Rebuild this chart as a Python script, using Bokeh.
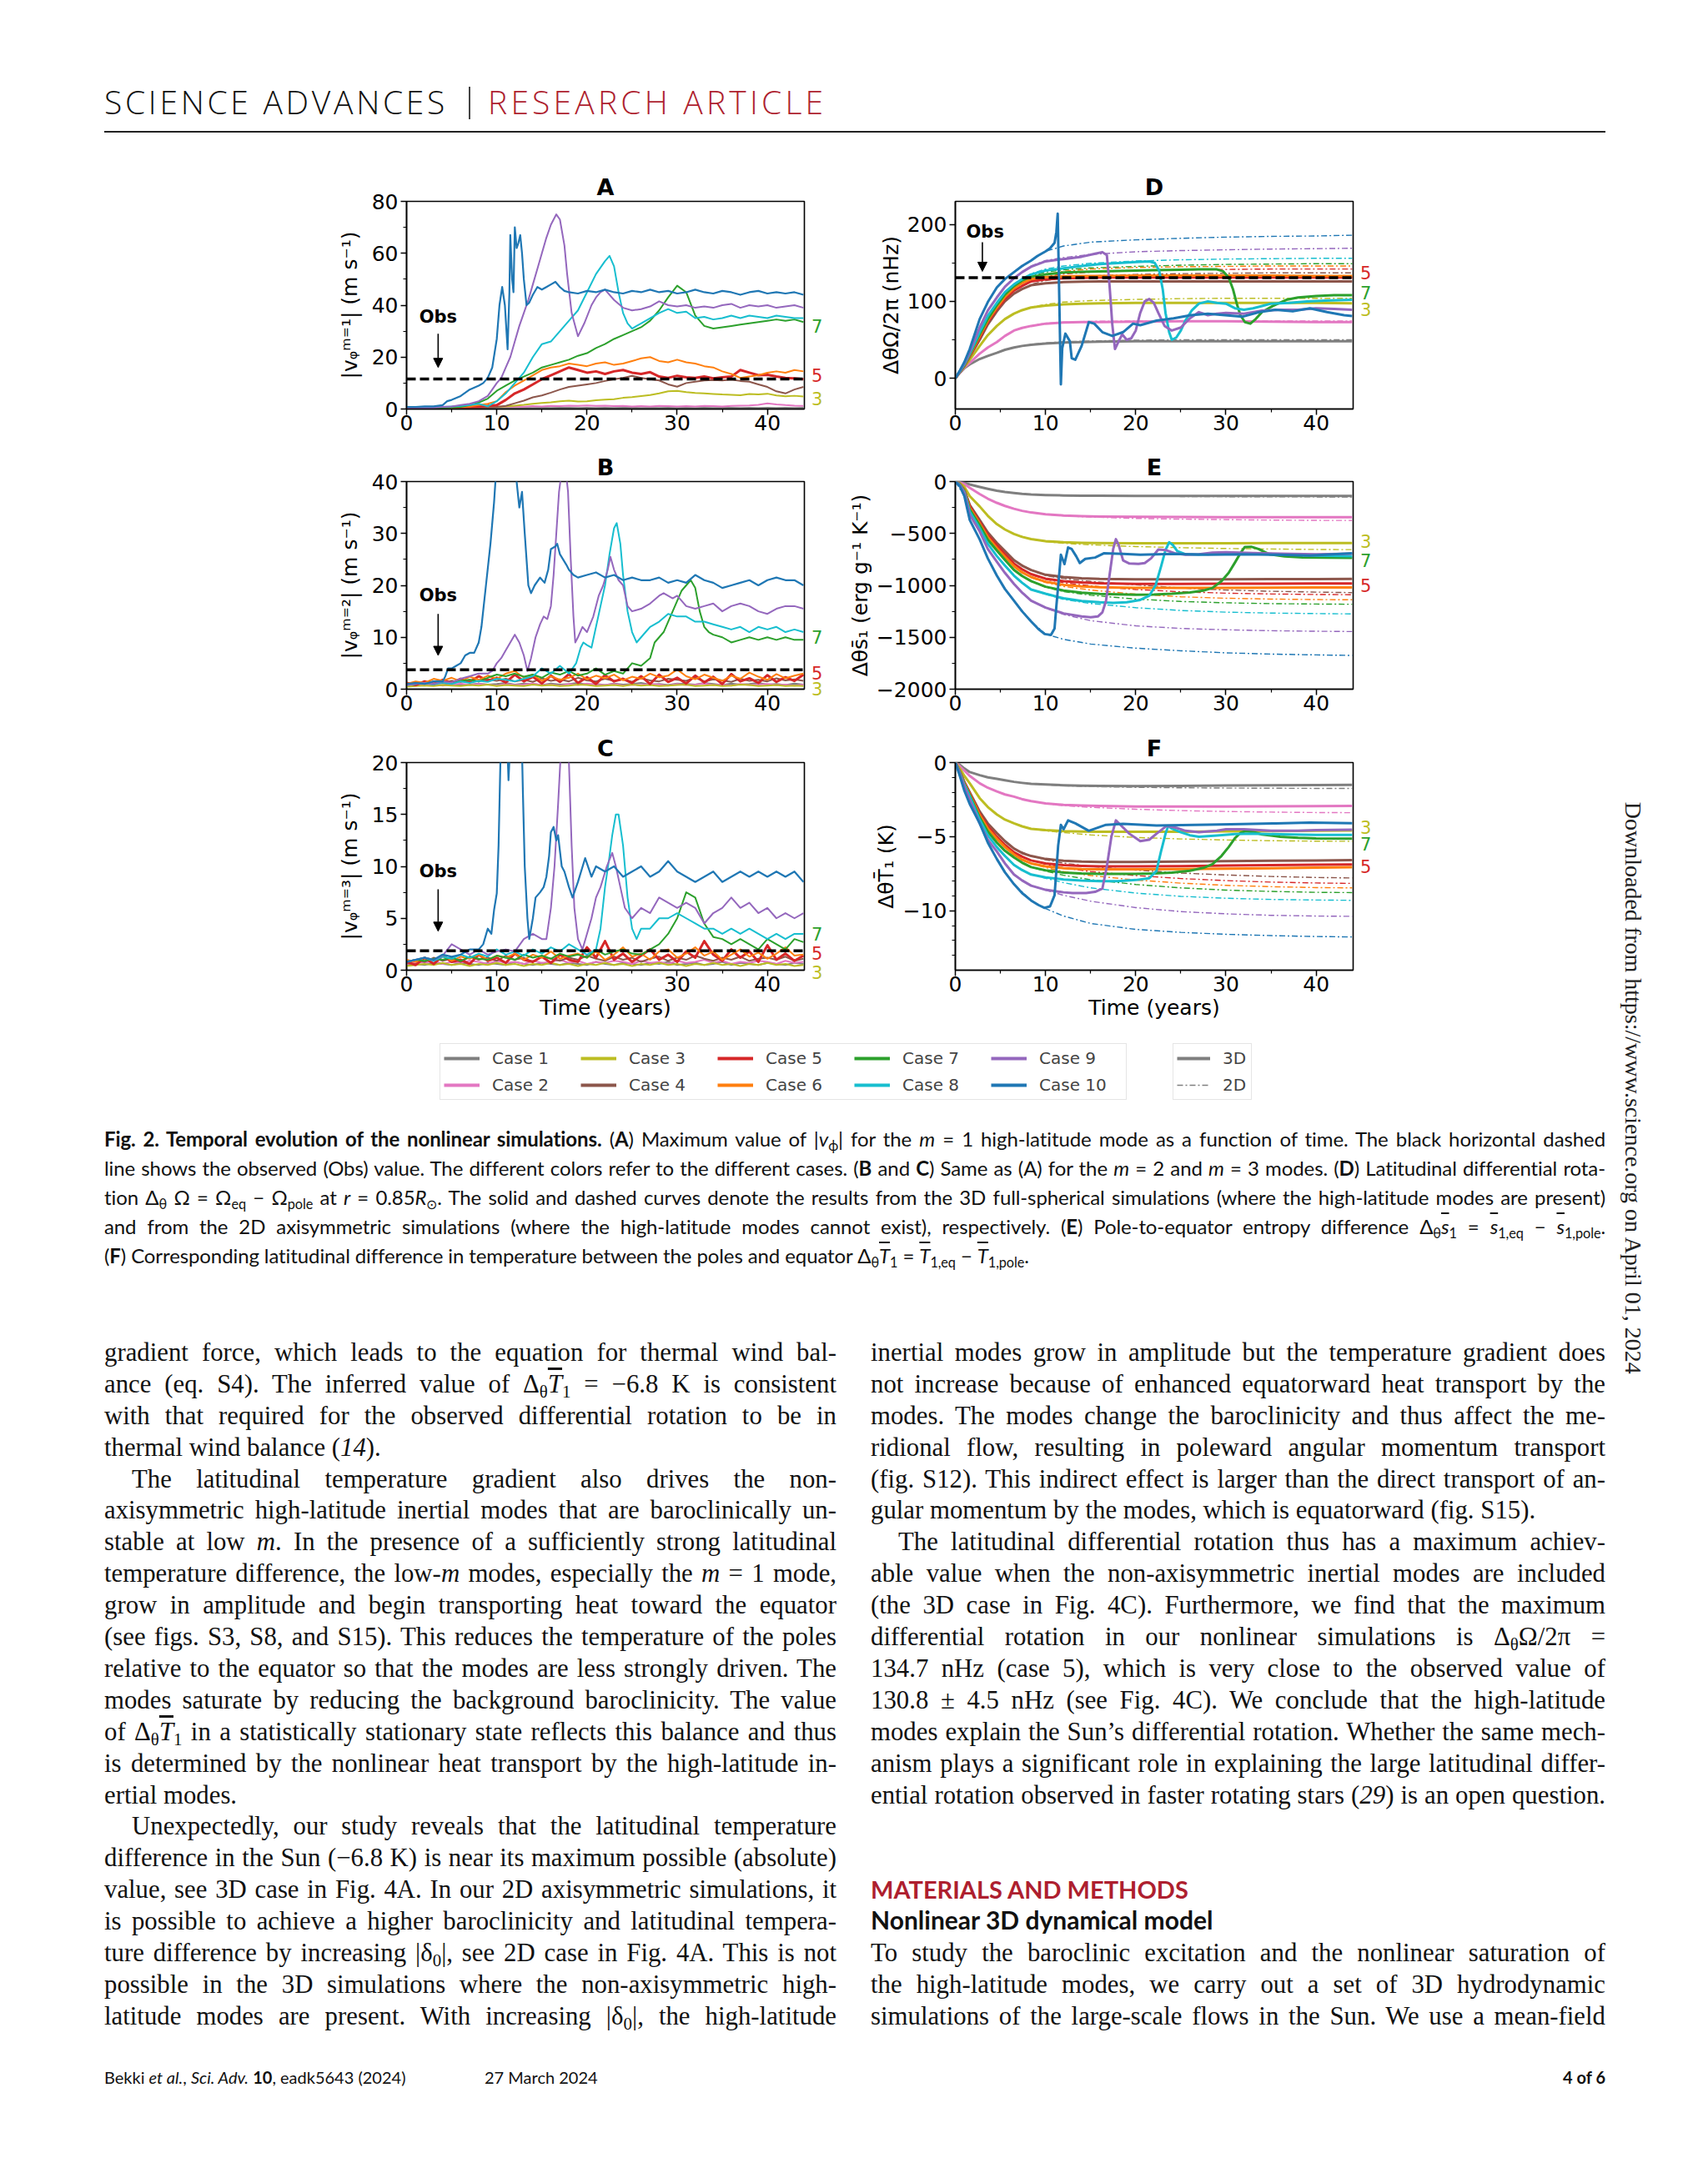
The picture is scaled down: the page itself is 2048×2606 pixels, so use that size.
import math
from bokeh.plotting import figure
from bokeh.models import (FixedTicker, Label, Arrow, NormalHead, Legend, LegendItem,
                          Div, Spacer, Range1d, Span, Title)
from bokeh.layouts import column, row
from bokeh.embed import file_html
from bokeh.resources import INLINE

# ---------------------------------------------------------------- data
CASE_LABELS = ["Case 1", "Case 2", "Case 3", "Case 4", "Case 5",
               "Case 6", "Case 7", "Case 8", "Case 9", "Case 10"]
CASE_COLORS = ["#7f7f7f", "#e377c2", "#bcbd22", "#8c564b", "#d62728",
               "#ff7f0e", "#2ca02c", "#17becf", "#9467bd", "#1f77b4"]
X_TICKS = [0, 10, 20, 30, 40]
X_MINOR = [5, 15, 25, 35]
XMAX = 44.1
YRS = list(range(45))
TF = [0, 0.5, 1, 1.6, 2.7, 3.6, 4.6, 5.5, 6.5, 7.4, 8.4, 10, 12, 14, 16, 20, 25, 30, 35, 40, 44]
TF2 = [0, 1, 1.6, 2.7, 3.6, 4.6, 5.5, 6.5, 8.4, 10, 12, 15, 20, 25, 30, 35, 40, 44]

# observed values
OBS_A, OBS_B, OBS_C, OBS_D = 11.6, 3.75, 1.87, 130.8

# ---- panel A : |v_phi^{m=1}|
A1 = [0.3,0.3,0.3,0.4,0.3,0.3,0.4,0.3,0.4,0.3, 0.4,0.5,0.4,0.5,0.4,0.5,0.4,0.5,0.5,0.4,
      0.5,0.4,0.5,0.4,0.5,0.5,0.4,0.5,0.4,0.5, 0.4,0.5,0.4,0.5,0.4,0.5,0.5,0.4,0.5,0.4, 0.5,0.4,0.5,0.4,0.5]
A2 = [0.5,0.6,0.5,0.7,0.6,0.5,0.7,0.6,0.8,0.7, 0.9,0.8,1.0,0.9,1.1,1.0,1.2,1.1,1.3,1.2,
      1.4,1.2,1.3,1.1,1.2,1.0,1.1,1.0,1.2,1.1, 1.0,1.1,1.0,1.2,1.1,1.0,1.2,1.3,1.4,1.6, 2.2,1.8,1.5,1.3,1.2]
A3 = [0.2,0.2,0.3,0.3,0.3,0.4,0.4,0.5,0.6,0.7, 0.8,1.0,1.3,1.6,2.0,2.3,2.6,3.0,3.2,2.9,
      3.0,3.4,3.6,3.8,4.3,4.6,5.0,5.4,6.0,6.8, 7.0,6.5,6.2,6.0,5.8,5.6,5.5,5.3,5.8,5.6, 5.9,5.2,4.9,5.1,4.8]
A4 = [0.2,0.2,0.2,0.3,0.3,0.3,0.4,0.4,0.5,0.6, 0.8,1.2,2.2,3.2,4.5,5.2,6.3,7.5,8.5,9.0,
      9.5,10.0,10.8,11.5,12.0,12.8,12.0,11.5,11.0,9.5, 8.6,10.0,10.5,11.0,11.2,11.0,11.3,10.8,10.5,9.5, 8.5,6.8,6.0,7.5,8.5]
A5 = [0.3,0.3,0.4,0.4,0.5,0.6,0.7,0.8,1.0,1.2, 1.5,3.5,6.0,7.5,9.5,11.5,13.0,14.5,16.0,15.0,
      14.0,14.5,13.5,14.5,15.0,14.0,13.5,14.2,12.5,12.0, 12.8,12.2,12.0,12.5,11.8,12.2,12.5,15.0,14.0,13.0, 13.2,12.5,12.0,11.8,11.5]
A6 = [0.3,0.3,0.4,0.4,0.5,0.6,0.8,1.0,1.5,2.0, 3.0,6.5,9.0,11.0,13.0,15.0,16.0,16.5,17.5,17.0,
      16.5,17.5,18.0,17.0,17.5,18.5,19.5,20.0,18.5,18.0, 19.0,18.0,17.5,16.5,16.0,14.5,13.5,12.0,12.5,13.0, 14.0,14.5,14.0,15.0,14.5]
A7 = [0.2,0.2,0.3,0.4,0.5,0.6,0.8,1.5,2.5,4.0, 7.0,9.0,11.0,12.5,14.0,16.0,17.0,18.0,19.0,20.5,
      21.5,23.5,25.0,27.0,28.5,30.0,31.5,34.0,38.0,43.0, 47.5,45.0,36.0,32.0,31.0,31.5,32.0,32.5,33.0,33.5, 34.0,34.5,34.0,34.5,33.5]
A8_t = list(range(0, 23)) + [22.5, 23, 23.5, 24, 24.5, 25, 25.5] + list(range(26, 45))
A8_v = [0.5,0.5,0.5,0.8,0.8,1,1.2,1.5,2,1,3,6,10,14,20,25,26,30,34,38,45,52,57,
        59,55,45,37,33,31,32,
        33,35,37,38.5,37,37.5,35,35.5,34.5,35,36,35,36,35.5,35,36,35.5,35,35]
A9_t = [0,1,2,3,4,5,6,7,8,9, 10,10.5,11,11.5,12,12.5,13,13.5,14,14.5,
        15,15.5,16,16.6,17,17.5,17.8,18.3,19,19.7, 20.5,21,21.5,22,23,24,25,26,27,28,
        29,30,31,32,33,34,35,36,37,38, 39,40,41,42,43,44]
A9_v = [0.3,0.3,0.4,0.5,0.8,1,1.5,2,3,5, 10,12,16,20,26,32,37,42,48,54,
        60,66,71,75,73,63,52,37,28,33, 40,43,45,46,42,39,38,38.5,39.5,41.5,
        40,39.5,40,39,39.5,39,40,40.5,39,40, 39.5,40,39,39.5,40,39]
A10_t = [0,1,2,3,4,4.5,5,6,7,8, 8.5,9,9.5,10,10.3,10.6,10.9,11.2,11.4,11.5,
         11.7,11.85,12.0,12.2,12.4,12.6,12.8,13.0,13.3,13.6, 14,14.5,15,15.5,16,16.5,17,17.5,18,19,
         20] + list(range(21, 45))
A10_v = [0.8,0.8,1,1,1.5,3,3.5,5,7.5,9, 10,12,16,27,40,47,40,23,45,67,
         50,45,70,62,64,67,60,50,40,41, 44,47,46,47,48,49,47,45.5,45,44.5,
         45.5] + [45,46,45,44.5,45.5,45,46,45,45.5,44.5,45,46,45,44.5,45.5,45,44,45,45.5,44.5,45,44.5,45,44]

# ---- panel B : |v_phi^{m=2}|
B1 = [0.6,0.8,0.7,0.9,0.8,1.0,0.8,0.9,1.1,0.9, 1.0,1.2,0.9,1.1,1.0,0.8,1.1,0.9,1.0,1.2,
      0.9,1.0,0.8,1.1,0.9,1.0,1.2,0.9,1.0,0.8, 1.1,1.0,0.9,1.2,1.0,0.8,1.1,0.9,1.0,1.2, 0.9,1.0,0.8,1.1,0.9]
B2 = [0.7,0.9,0.8,1.0,0.7,0.9,1.1,0.8,1.0,0.9, 0.7,1.0,0.8,0.9,1.1,0.8,0.9,0.7,1.0,0.8,
      1.1,0.9,0.8,1.0,0.7,0.9,0.8,1.0,0.9,0.7, 1.0,0.8,0.9,1.1,0.8,0.9,0.7,1.0,0.8,0.9, 1.0,0.8,0.9,0.7,0.9]
B3 = [0.5,0.6,0.7,0.6,0.8,0.7,0.6,0.8,0.7,0.9, 0.6,0.8,0.7,0.6,0.9,0.7,0.8,0.6,0.7,0.9,
      0.8,0.6,0.7,0.8,0.6,0.9,0.7,0.8,0.6,0.7, 0.8,0.9,0.6,0.7,0.8,0.6,0.7,0.9,0.8,0.6, 0.7,0.8,0.6,0.7,0.6]
B4 = [1.0,1.3,1.1,1.5,1.2,1.6,1.4,1.8,1.5,1.9, 1.6,2.0,1.5,1.8,1.4,2.1,1.6,1.9,1.5,2.2,
      1.7,1.5,2.0,1.6,1.9,1.4,2.1,1.7,1.5,2.0, 1.8,1.6,2.2,1.5,1.9,1.7,1.4,2.0,1.6,1.8, 1.5,2.1,1.7,1.9,1.6]
B5 = [1.2,0.8,1.5,1.0,1.8,1.2,2.0,1.4,2.5,1.6, 2.2,1.3,2.8,1.5,2.4,1.1,2.6,1.4,2.9,1.2,
      2.3,1.0,2.7,1.5,2.0,1.2,2.5,1.0,2.8,1.4, 2.2,1.1,2.6,1.3,2.4,1.0,2.9,1.5,2.1,1.2, 2.7,1.4,2.3,1.6,2.8]
B6 = [1.0,1.5,1.2,2.0,1.6,2.2,1.5,2.4,1.8,2.6, 2.0,3.0,3.5,2.2,2.8,1.6,2.5,1.8,2.2,3.0,
      1.9,2.6,2.1,2.8,1.7,2.4,2.0,3.0,2.3,2.6, 3.8,2.5,1.9,2.8,2.2,1.6,2.6,2.0,3.2,2.4, 1.8,2.9,2.1,2.6,3.0]
B7_t = list(range(0, 27)) + [27,27.5,28,28.5,29,29.5,30,30.5,31,31.5,32,32.5,33,33.5,34] + list(range(35, 45))
B7_v = [0.8,1.0,1.2,1.0,1.4,1.2,1.6,1.8,1.5,2.2, 2.8,2.5,3.0,2.4,2.8,2.2,3.2,2.8,3.5,2.6,
        3.0,4.0,2.8,3.5,3.0,5.0,4.5] + [6,9,10,11,13,15,17,19,20,21,19.5,15,12,11,10.5] + \
       [10,9,9.5,10,9.5,10,9.5,10,9.5,9.5]
B8_t = list(range(0, 19)) + [18.8,19.3,19.6,20,20.5,21,21.5,22,22.5,23,23.3,23.7,24,24.5,25,25.5,26,26.5,27] + list(range(28, 45))
B8_v = [0.8,1.0,1.2,0.9,1.3,1.0,1.5,1.2,1.6,1.4, 2.0,1.8,1.5,2.0,2.5,4.0,3.0,4.5,3.0] + \
       [5,8,9,8.5,8,12,16,20,26,31,32,28,22,15,11,9,10,11,12] + \
       [13,14.5,14,14,13,13,12.5,12,11.5,12,11,12,11.5,12,11,11.5,11]
B9_t = list(range(0, 10)) + [9.5,10,10.5,11,11.5,12,12.5,13,13.4,13.8, 14.3,14.8,15.2,15.6,16,16.3,16.6,16.9,17.2,17.6,
        17.9,18.2,18.5,18.7,19,19.5,20,20.7,21.3,21.8, 22.3,22.6,23,23.5,24,24.5,25,26,27,28,
        28.5,29.5,30,31,32,33,34,35,36,37, 38,39,40,41,42,43,44]
B9_v = [0.8,1.0,1.2,1.0,1.5,1.3,2.0,2.5,3.0,3.0] + [3.5,5,6,7.5,9,10.5,9,6.5,3.5,6, 10,12.5,14,13.5,16,22,30,38,42,43,
        38,25,14,9,10,12,11,14,18,20, 23,25.5,23,21,20,16,15,15.5,16.5,18,
        18.5,17.5,18,16,15.5,16,16.5,15,16,16.5, 16,15,14.5,15.5,16,16,15.5]
B10_t = [0,1,2,3,4,4.3,4.6,5,5.5,6, 6.5,7,7.5,8,8.3,8.8,9.3,9.7,10,11, 12,12.2,12.5,12.8,13.1,13.5,13.8,14.2,14.8,15.3,
         15.7,16,16.5,16.7,17,17.7,18,18.5,19,20, 21] + list(range(22, 45))
B10_v = [1.0,1.2,1.0,1.5,1.5,2.5,4,4,4.5,5, 6.5,7,7,9,12,20,28,36,44,50, 45,40,35,38,30,20,18.5,20,21.5,20.5,
         23,27,27.5,28,26,24,23,22,21.5,22, 22.5] + \
        [21.5,22,21,21.5,21,21,21.5,20.5,21,20.5,22,21,20.5,19.5,20,20.5,21,20,21,21.5,21,21,20]

# ---- panel C : |v_phi^{m=3}|
C1 = [0.5,0.6,0.5,0.7,0.6,0.5,0.7,0.6,0.5,0.7, 0.6,0.5,0.8,0.6,0.5,0.7,0.6,0.5,0.7,0.6,
      0.5,0.8,0.6,0.5,0.7,0.6,0.5,0.7,0.6,0.8, 0.5,0.6,0.7,0.5,0.6,0.8,0.5,0.7,0.6,0.5, 0.7,0.6,0.5,0.7,0.6]
C2 = [0.6,0.8,0.7,0.9,0.6,0.8,0.7,0.9,0.8,0.6, 0.9,0.7,0.8,0.6,0.9,0.7,0.8,1.0,0.7,0.9,
      0.6,0.8,0.7,0.9,0.8,0.6,0.9,0.7,0.8,0.6, 0.9,0.7,0.8,1.0,0.7,0.9,0.6,0.8,0.7,0.9, 0.8,0.6,0.9,0.7,0.8]
C3 = [0.4,0.5,0.6,0.5,0.7,0.5,0.6,0.4,0.6,0.5, 0.7,0.5,0.6,0.4,0.6,0.5,0.7,0.5,0.6,0.4,
      0.6,0.5,0.7,0.5,0.6,0.4,0.6,0.5,0.7,0.5, 0.6,0.4,0.6,0.5,0.7,0.5,0.6,0.4,0.6,0.5, 0.7,0.5,0.6,0.4,0.5]
C4 = [0.7,1.0,0.8,1.2,0.9,1.1,0.8,1.3,1.0,1.2, 0.9,1.4,1.0,1.2,0.8,1.3,1.1,0.9,1.2,1.0,
      1.4,1.1,0.9,1.3,1.0,1.2,0.8,1.1,1.3,0.9, 1.2,1.0,1.4,1.1,0.9,1.2,1.0,1.3,0.9,1.1, 1.2,1.0,1.3,0.9,1.1]
C5 = [0.8,0.5,1.2,0.6,1.4,0.8,1.0,0.6,1.5,0.9, 1.2,0.7,1.6,1.0,0.8,1.3,0.7,1.5,1.0,0.8,
      2.2,1.2,2.8,1.0,1.6,0.8,1.4,2.0,1.0,1.5, 0.8,1.8,1.2,2.8,1.5,0.9,2.0,1.2,1.8,0.8, 2.4,1.0,1.6,0.9,1.4]
C6 = [1.0,0.8,1.2,1.0,1.4,0.9,1.3,1.1,1.5,1.0, 1.4,1.2,1.6,1.0,1.5,1.2,1.8,1.1,1.4,1.6,
      1.2,1.8,1.0,1.5,2.2,1.3,1.6,1.0,1.8,2.0, 1.2,1.6,2.2,1.4,1.8,1.0,1.5,2.0,1.3,1.7, 1.1,1.6,2.2,1.4,1.5]
C7 = [0.8,1.0,0.9,1.1,1.0,1.2,0.9,1.3,1.1,1.0, 1.4,1.2,1.0,1.5,1.2,1.4,1.1,1.6,1.3,1.5,
      1.2,2.0,1.5,1.8,2.0,1.6,1.5,2.0,2.5,3.5, 5.0,7.5,7.0,4.5,3.2,3.0,2.5,3.0,2.5,2.0, 3.0,2.5,2.0,3.0,2.7]
C8_t = list(range(0, 22)) + [21.5,22,22.5,22.8,23.2,23.5,24,24.5,25,25.5] + list(range(26, 45))
C8_v = [0.8,1.0,1.2,0.9,1.3,1.1,1.5,1.2,1.6,1.3, 2.0,1.5,1.8,1.4,2.0,1.6,2.2,1.8,2.5,2.0, 1.5,2.0] + \
       [4,8,11,13,15,15,12,7,4,3] + [4,4,5,5,5.5,5,4.5,4,4,3.5, 4,3.5,4,3.5,3,3.5,3,3.5,3.5]
C9_t = list(range(0, 16)) + [15.5,16,16.4,16.8,17.1,17.6,18.0,18.3,18.6,19, 19.5,20,20.5,21,21.5,22.2,22.8,23.2,23.7,24.2,
        25] + list(range(26, 45))
C9_v = [0.8,1.0,1.2,1.0,1.4,2.5,2.0,1.5,2.0,1.5, 1.8,2.0,1.8,3.0,3.5,3.0] + \
       [3,6,10,16,21,22,20,12,6,3, 2,3.5,5,7,8,10,11.3,10,8,6, 5] + \
       [6,5.5,7,6.5,6,6.5,6,4.5,5.5,6, 7,6,6.5,5.5,6,5,5.5,5,5.5]
C10_t = [0,1,2,3,4,5,6,7,8,8.5, 9,9.4,9.7,10,10.2,10.5,11,11.3,11.6,12.2, 12.8,12.9,13.1,13.4,13.6,14,14.3,14.8,15.2,15.5,
         15.8,16,16.3,16.6,16.8,17.2,17.5,18,18.4,19, 19.8,20.5,21] + list(range(22, 45))
C10_v = [0.8,1.0,1.2,1.0,1.5,1.3,1.5,2.0,2.0,2.5, 4.0,3.5,5.8,7.4,12,24,26,18.3,24,25, 21,17,10,5,3,5,7,7.5,8,9,
         11,13.3,13.8,12.5,13,10,9.5,8,7,8.5, 10.8,9,10] + \
        [9.5,10,9,9.5,10,9,9.5,10.5,9.5,9,8.5,9,9.5,8.5,9,9.5,9,9.5,9,9.5,9,9.5,8.5]

# ---- panel D : Delta Omega / 2 pi (nHz); 3D solid, 2D dash-dot
D1 = [0,7,13,18,25,29,33,37,40,42,43.5,45,46.5,47,47.5,48,48,48,48,48,48]
D2 = [0,7,14,20,32,40,47,55,62,65.5,68,71,72.5,73,73,73.5,74,74,73.5,73,73]
D3 = [0,8,15,24,42,56,68,77,84,88.5,92,94.5,96,97,97.5,98,98,98,98,98,97.5]
D4 = [0,8,16,28,50,70,87,100,110,116,121,123.5,125,125.5,126,126,126,126,126,126,126]
D5 = [0,8,16,29,53,73,90,103,114,120,126,128.5,130,130.5,131,131,131,131,131,131,131]
D6 = [0,8,17,30,55,75,92,106,117,124,129,131.5,132.5,133,133,133.5,133.5,133.5,133.5,133,133]
D7_t = TF[:16] + [22,25,27,29,29.7,30.3,30.8,31.2,31.6,32.1,32.7,33.3,34,35.2,36.7,38,40,42,44]
D7_v = [0,8,17,31,57,77,95,109,120,127,132,135,137.5,138.5,139,140] + \
       [140.5,141,141.5,141.5,139,131,115,97,82,73,71,77,86,94,102,105,107,108,108]
D8_t = TF[:16] + [21.5,22.1,22.6,23.0,23.3,23.7,24,24.5,25,25.5,26.2,27,28,29,30,31,32,33,34,35,37,39,41,44]
D8_v = [0,9,18,32,60,81,98,112,122,129,135,140,143,146,148.5,151] + \
       [152,150,140,115,85,60,50,53,62,75,88,97,100,98,97,91,89,91,94,97,98,100,101,102]
D9_t = TF[:14] + [15.5,16.3,16.8,17.1,17.4,17.7,18.1,18.5,19,19.5,20,20.5,21,21.5,22,22.5,23.2,24,25,26,
                  27,28,29,30,32,34,36,38,40,42,44]
D9_v = [0,9,19,34,66,88,105,119,130,138,145,152,155,158] + \
       [162,164,160,120,70,38,48,57,50,52,62,85,100,103,98,85,68,62,66,78,86,82,84,85,84,88,89,89,91,90,89]
D10_t = [0,0.5,1,1.6,2.7,3.6,4.6,5.5,6.5,7.4, 8.4,9.1,10,10.5,11,11.2,11.35,11.7,11.85,12.2,
         12.7,12.9,13.3,14,14.8,15.4,16.3,17.4,18.6,19.7, 20.5,22.3,24.2,26.1,28,29.9,31.8,33.7,35.5,37.4,
         39.3,41.2,43.1,44]
D10_v = [0,10,21,38,77,99,118,129,138,146, 153,159,165,169,176,190,214,-8,39,58,
         48,26,24,42,73,71,60,55,60,71, 69,75,78,82,84,82,80,86,89,87, 91,86,82,81]
D2D_1 = [0,13,18,25,29,33,37,40,44,46,47.5,48.5,49.5,50,50,50,50,50]
D2D_2 = [0,14,20,32,40,47,55,62,68.5,71.5,73,74,74.5,74.5,74.5,74.5,74.5,74.5]
D2D_3 = [0,15,24,42,56,68,77,84,92.5,96,99,101,102.5,103.5,104,104,104,104]
D2D_4 = [0,16,28,50,70,87,100,110,122,127,130,133,135,136,136.5,137,137,137]
D2D_5 = [0,16,29,53,73,90,103,114,127,132,135.5,138,140,141,141.5,142,142,142]
D2D_6 = [0,17,30,55,75,92,106,117,130,135,139,142,144,145,145.5,146,146,146]
D2D_7 = [0,17,31,57,77,95,109,120,133,138,141,143.5,145.5,147,148,148.5,149,149]
D2D_8 = [0,18,32,60,81,98,112,122,136,142,146,149.5,152.5,154,155,155.5,156,156]
D2D_9 = [0,19,34,66,88,105,119,130,146,153,157,161,164.5,166,167,168,168.5,169]
D2D_10 = [0,21,38,77,99,118,129,138,153,165,172,177,180,182,183.5,184.5,185,186]

# ---- panel E : entropy difference
E1 = [0,-4,-12,-28,-52,-70,-88,-100,-110,-118,-124,-130,-134,-136,-137,-138,-139,-139,-139,-138,-138]
E2 = [0,-8,-25,-60,-120,-165,-205,-235,-262,-282,-298,-315,-327,-333,-337,-340,-342,-343,-343,-343,-343]
E3 = [0,-15,-50,-140,-240,-330,-410,-462,-505,-533,-554,-574,-585,-590,-592,-594,-594,-594,-593,-593,-593]
E4 = [0,-25,-80,-225,-370,-490,-590,-670,-758,-810,-852,-898,-920,-932,-938,-942,-942,-941,-940,-939,-938]
E5 = [0,-27,-86,-240,-390,-515,-615,-700,-790,-845,-892,-935,-960,-972,-980,-985,-985,-984,-983,-982,-981]
E6 = [0,-28,-90,-255,-405,-535,-640,-725,-815,-875,-920,-965,-995,-1010,-1018,-1024,-1025,-1024,-1022,-1021,-1021]
E7_t = TF[:16] + [22,24,26,27.5,28.5,29.5,30.3,31,31.6,32.1,32.8,33.6,34.8,36.5,38.5,41,44]
E7_v = [0,-30,-95,-270,-420,-560,-665,-755,-852,-910,-959,-1013,-1050,-1070,-1082,-1090] + \
       [-1088,-1080,-1068,-1050,-1025,-960,-880,-780,-690,-630,-628,-650,-700,-720,-730,-733,-735]
E8_t = TF[:14] + [16,17.5,19,20.5,21.5,22.2,22.8,23.3,23.7,24.1,24.6,25.5,27,29,31,35,40,44]
E8_v = [0,-32,-100,-290,-450,-600,-718,-810,-906,-975,-1040,-1080,-1125,-1150] + \
       [-1162,-1168,-1162,-1140,-1100,-1000,-820,-660,-585,-610,-670,-700,-705,-695,-690,-700,-712,-718]
E9_t = TF[:14] + [15,15.8,16.3,16.7,17.1,17.5,17.8,18.1,18.6,19.3,20.3,21,21.7,22.5,23.3,24.3,25.5,27,28.5,30,33,36,40,44]
E9_v = [0,-35,-110,-320,-480,-650,-772,-880,-986,-1070,-1147,-1214,-1270,-1300] + \
       [-1308,-1300,-1260,-1150,-900,-650,-555,-610,-760,-790,-793,-785,-740,-655,-660,-690,-705,-700,-685,-680,-688,-695,-700,-695]
E10_t = [0,0.5,1,1.6,2.7,3.6,4.6,5.5,6.5,7.4, 8.4,9.2,9.9,10.6,11.0,11.2,11.45,11.7,12.1,12.5,
         12.9,13.4,13.8,14.4,15.5,16.5,18.6,20.5,24.2,28, 31.8,35.5,39.3,44]
E10_v = [0,-45,-140,-370,-557,-740,-906,-1035,-1147,-1250, -1348,-1420,-1469,-1478,-1415,-1200,-960,-705,-795,-635,
         -650,-720,-785,-745,-732,-690,-697,-705,-697,-705, -700,-705,-713,-691]
E2D_1 = [0,-12,-28,-52,-70,-88,-100,-110,-124,-130,-135,-139,-142,-144,-146,-147,-148,-148]
E2D_2 = [0,-25,-60,-120,-165,-205,-235,-262,-298,-316,-330,-342,-355,-362,-367,-371,-374,-375]
E2D_3 = [0,-50,-140,-240,-330,-410,-462,-505,-556,-578,-595,-610,-626,-637,-645,-650,-654,-656]
E2D_4 = [0,-80,-225,-370,-490,-590,-670,-758,-855,-905,-935,-962,-995,-1025,-1045,-1057,-1065,-1070]
E2D_5 = [0,-86,-240,-390,-515,-615,-700,-790,-895,-942,-975,-1005,-1040,-1062,-1075,-1083,-1088,-1090]
E2D_6 = [0,-90,-255,-405,-535,-640,-725,-815,-925,-972,-1010,-1045,-1085,-1110,-1124,-1132,-1137,-1139]
E2D_7 = [0,-95,-270,-420,-560,-665,-755,-852,-962,-1018,-1060,-1095,-1132,-1155,-1168,-1176,-1180,-1182]
E2D_8 = [0,-100,-290,-450,-600,-718,-810,-906,-1042,-1085,-1135,-1175,-1215,-1242,-1258,-1267,-1272,-1275]
E2D_9 = [0,-110,-320,-480,-650,-772,-880,-986,-1148,-1218,-1280,-1340,-1390,-1415,-1428,-1437,-1442,-1445]
E2D_10 = [0,-140,-370,-557,-740,-906,-1035,-1147,-1348,-1469,-1520,-1565,-1605,-1630,-1650,-1662,-1670,-1675]

# ---- panel F : temperature difference (K)
F1 = [0,-0.15,-0.4,-0.64,-0.85,-1.0,-1.1,-1.2,-1.3,-1.37,-1.44,-1.48,-1.53,-1.56,-1.58,-1.59,-1.57,-1.55,-1.53,-1.52,-1.51]
F2 = [0,-0.25,-0.55,-0.9,-1.4,-1.7,-1.95,-2.15,-2.3,-2.47,-2.6,-2.75,-2.85,-2.9,-2.93,-2.96,-2.97,-2.96,-2.95,-2.94,-2.93]
F3 = [0,-0.4,-0.9,-1.4,-2.4,-3.0,-3.5,-3.85,-4.1,-4.3,-4.47,-4.56,-4.62,-4.65,-4.66,-4.67,-4.66,-4.64,-4.62,-4.6,-4.58]
F4 = [0,-0.6,-1.3,-2.0,-3.3,-4.1,-4.75,-5.3,-5.8,-6.1,-6.3,-6.5,-6.62,-6.68,-6.7,-6.7,-6.68,-6.65,-6.62,-6.6,-6.58]
F5 = [0,-0.63,-1.35,-2.1,-3.45,-4.3,-5.0,-5.55,-6.05,-6.35,-6.6,-6.8,-6.92,-6.97,-7.0,-7.0,-6.98,-6.95,-6.92,-6.89,-6.87]
F6 = [0,-0.65,-1.4,-2.15,-3.55,-4.45,-5.15,-5.7,-6.2,-6.55,-6.8,-7.0,-7.12,-7.18,-7.2,-7.2,-7.18,-7.15,-7.12,-7.08,-7.05]
F7_t = TF[:16] + [22,24,26,27.5,28.5,29.5,30.3,31,31.6,32.2,33,34,36,38,40,44]
F7_v = [0,-0.68,-1.45,-2.2,-3.7,-4.65,-5.4,-5.95,-6.4,-6.75,-7.05,-7.27,-7.42,-7.48,-7.5,-7.5] + \
       [-7.48,-7.42,-7.3,-7.1,-6.85,-6.3,-5.7,-5.1,-4.75,-4.62,-4.68,-4.85,-5.0,-5.08,-5.12,-5.13]
F8_t = TF[:14] + [16,18,20,21.5,22.3,22.8,23.3,23.6,24,25,26,27,29,31,33,36,40,44]
F8_v = [0,-0.7,-1.5,-2.3,-3.85,-4.9,-5.7,-6.3,-6.9,-7.25,-7.55,-7.74,-7.88,-7.96] + \
       [-8.0,-8.0,-7.92,-7.8,-7.3,-6.0,-4.8,-4.28,-4.45,-4.7,-4.9,-5.0,-4.92,-4.82,-4.8,-4.84,-4.88,-4.88]
F9_t = TF[:13] + [13,14.5,15.5,16.3,16.8,17.3,17.8,18.3,19.3,20.5,21.5,22.3,23.4,24.5,25.5,27,29,30,32,35,38,40,44]
F9_v = [0,-0.75,-1.6,-2.5,-4.1,-5.2,-6.0,-6.8,-7.55,-7.95,-8.3,-8.58,-8.75] + \
       [-8.8,-8.8,-8.72,-8.5,-7.0,-5.0,-3.9,-4.2,-4.8,-5.3,-5.2,-4.8,-4.28,-4.4,-4.6,-4.7,-4.6,-4.5,-4.5,-4.6,-4.6,-4.55,-4.52]
F10_t = [0,0.5,1,1.6,2.7,3.6,4.6,5.5,6.5,7.4, 8.4,9.2,9.9,10.5,11.0,11.4,11.7,12.0,12.5,13.3,
         14.8,16.7,18.6,22.3,28,31.8,35.5,39.3,44]
F10_v = [0,-0.9,-1.9,-2.8,-4.1,-5.4,-6.5,-7.4,-8.2,-8.8, -9.3,-9.6,-9.8,-9.7,-8.95,-5.6,-4.2,-4.5,-3.9,-4.1,
         -4.6,-4.2,-4.13,-4.24,-4.19,-4.15,-4.1,-4.05,-4.09]
F2D_1 = [0,-0.4,-0.64,-0.85,-1.0,-1.1,-1.2,-1.3,-1.44,-1.5,-1.56,-1.62,-1.67,-1.7,-1.72,-1.73,-1.74,-1.74]
F2D_2 = [0,-0.55,-0.9,-1.4,-1.7,-1.95,-2.15,-2.3,-2.6,-2.77,-2.9,-3.02,-3.15,-3.24,-3.3,-3.34,-3.37,-3.38]
F2D_3 = [0,-0.9,-1.4,-2.4,-3.0,-3.5,-3.85,-4.1,-4.47,-4.6,-4.72,-4.88,-5.05,-5.15,-5.22,-5.27,-5.3,-5.31]
F2D_4 = [0,-1.3,-2.0,-3.3,-4.1,-4.75,-5.3,-5.8,-6.3,-6.55,-6.78,-7.0,-7.25,-7.45,-7.58,-7.68,-7.75,-7.78]
F2D_5 = [0,-1.35,-2.1,-3.45,-4.3,-5.0,-5.55,-6.05,-6.6,-6.85,-7.1,-7.35,-7.62,-7.82,-7.96,-8.06,-8.12,-8.15]
F2D_6 = [0,-1.4,-2.15,-3.55,-4.45,-5.15,-5.7,-6.2,-6.8,-7.08,-7.35,-7.62,-7.92,-8.13,-8.28,-8.37,-8.43,-8.45]
F2D_7 = [0,-1.45,-2.2,-3.7,-4.65,-5.4,-5.95,-6.4,-7.05,-7.32,-7.6,-7.9,-8.22,-8.45,-8.6,-8.69,-8.75,-8.77]
F2D_8 = [0,-1.5,-2.3,-3.85,-4.9,-5.7,-6.3,-6.9,-7.55,-7.8,-8.1,-8.45,-8.8,-9.02,-9.15,-9.23,-9.27,-9.29]
F2D_9 = [0,-1.6,-2.5,-4.1,-5.2,-6.0,-6.8,-7.55,-8.3,-8.6,-8.95,-9.35,-9.78,-10.05,-10.2,-10.3,-10.35,-10.37]
F2D_10 = [0,-1.9,-2.8,-4.1,-5.4,-6.5,-7.4,-8.2,-9.3,-9.85,-10.35,-10.85,-11.25,-11.45,-11.58,-11.67,-11.73,-11.76]

# end-of-line case labels (text, y)
END_A = [("7", 31.4), ("5", 12.7), ("3", 3.5)]
END_B = [("7", 9.8), ("5", 2.9), ("3", -0.2)]
END_C = [("7", 3.4), ("5", 1.55), ("3", -0.3)]
END_D = [("5", 136), ("7", 110), ("3", 88)]
END_E = [("3", -584), ("7", -767), ("5", -1013)]
END_F = [("3", -4.45), ("7", -5.55), ("5", -7.08)]
END_COLORS = {"3": "#bcbd22", "5": "#d62728", "7": "#2ca02c"}

# ---------------------------------------------------------------- helpers
FRAME_H = 249


def make_panel(w, h, yr, borders, yticks, yminor, ylabel, ylab_standoff, letter,
               overrides=None, xlabel=None):
    bl, br, bt, bb = borders
    p = figure(width=w, height=h, x_range=Range1d(0, XMAX), y_range=Range1d(yr[0], yr[1]),
               title=None, output_backend="svg", toolbar_location=None,
               min_border_left=bl, min_border_right=br, min_border_top=bt, min_border_bottom=bb)
    p.title = Title(text=letter, align="center", text_font="DejaVu Sans", text_font_style="bold",
                    text_font_size="27px", text_color="black", standoff=3, offset=0)
    p.xgrid.visible = False
    p.ygrid.visible = False
    p.outline_line_color = "black"
    p.outline_line_width = 1.6
    p.outline_line_alpha = 1.0
    xa, ya = p.xaxis[0], p.yaxis[0]
    xa.ticker = FixedTicker(ticks=X_TICKS, minor_ticks=X_MINOR)
    ya.ticker = FixedTicker(ticks=yticks, minor_ticks=yminor)
    for ax in (xa, ya):
        ax.axis_line_color = "black"
        ax.axis_line_width = 1.6
        ax.major_tick_in = 0
        ax.major_tick_out = 7
        ax.minor_tick_in = 0
        ax.minor_tick_out = 4
        ax.major_tick_line_width = 1.5
        ax.minor_tick_line_width = 1.2
        ax.major_label_text_font = "DejaVu Sans"
        ax.major_label_text_font_size = "25px"
        ax.major_label_text_color = "black"
        ax.axis_label_text_font = "DejaVu Sans"
        ax.axis_label_text_font_size = "25px"
        ax.axis_label_text_font_style = "normal"
        ax.axis_label_text_color = "black"
    xa.major_label_standoff = 0
    ya.major_label_standoff = 3
    ya.axis_label = ylabel
    ya.axis_label_standoff = ylab_standoff
    if xlabel:
        xa.axis_label = xlabel
        xa.axis_label_standoff = 2
    if overrides:
        ya.major_label_overrides = overrides
    return p


def label_strip(w, h, yr, borders, items):
    """narrow strip right of a panel: case numbers placed with the panel's own y scale"""
    bl, br, bt, bb = borders
    per_px = (yr[1] - yr[0]) / FRAME_H
    spans = []
    for txt, y in items:
        cy = bt + (yr[1] - y) / per_px
        spans.append(f"<div style=\"position:absolute;left:7px;top:{cy - 8:.1f}px;height:16px;"
                     f"line-height:16px;font-family:'DejaVu Sans';font-size:21px;"
                     f"color:{END_COLORS[txt]};\">{txt}</div>")
    html = f"<div style='position:relative;width:{w}px;height:{h}px;'>{''.join(spans)}</div>"
    return Div(text=html, width=w, height=h, margin=0)


def obs_marks(p, level, ox, oy, ax, ay0, ay1):
    p.add_layout(Span(location=level, dimension="width", line_color="black",
                      line_width=3.5, line_dash="11 5"))
    p.add_layout(Label(x=ox, y=oy, text="Obs", text_align="center", text_baseline="middle",
                       text_font="DejaVu Sans", text_font_style="bold", text_font_size="21px",
                       text_color="black"))
    p.add_layout(Arrow(end=NormalHead(size=11, line_color="black", fill_color="black", line_width=1),
                       x_start=ax, y_start=ay0, x_end=ax, y_end=ay1, line_width=1.6, line_color="black"))


def add_line(p, t, v, color, width, dash="solid"):
    n = min(len(t), len(v))
    p.line(x=list(t[:n]), y=list(v[:n]), line_color=color, line_width=width,
           line_dash=dash, line_join="round")


# ---------------------------------------------------------------- panels
LW, RW = 594, 627          # panel canvases (left / right column)
LSW, RSW = 26, 36          # label strips
PH = [345, 335, 365]
LB = [(115, 2, 46, 50), (115, 2, 37, 49), (115, 2, 39, 77)]
RB = [(148, 2, 46, 50), (148, 2, 37, 49), (148, 2, 39, 77)]

YR_A, YR_B, YR_C = (0, 80), (0, 40), (0, 20)
YR_D, YR_E, YR_F = (-40, 230), (-2000, 0), (-14, 0)

pA = make_panel(LW, PH[0], YR_A, LB[0], [0, 20, 40, 60, 80], [10, 30, 50, 70],
                "|vᵩᵐ⁼¹| (m s⁻¹)", 9, "A")
pB = make_panel(LW, PH[1], YR_B, LB[1], [0, 10, 20, 30, 40], [5, 15, 25, 35],
                "|vᵩᵐ⁼²| (m s⁻¹)", 9, "B")
pC = make_panel(LW, PH[2], YR_C, LB[2], [0, 5, 10, 15, 20], [2.5, 7.5, 12.5, 17.5],
                "|vᵩᵐ⁼³| (m s⁻¹)", 9, "C", xlabel="Time (years)")
pD = make_panel(RW, PH[0], YR_D, RB[0], [0, 100, 200], [50, 150],
                "ΔθΩ/2π (nHz)", 2, "D")
pE = make_panel(RW, PH[1], YR_E, RB[1], [0, -500, -1000, -1500, -2000], [-250, -750, -1250, -1750],
                "Δθs̄₁ (erg g⁻¹ K⁻¹)", 2, "E",
                overrides={0: "0", -500: "−500", -1000: "−1000", -1500: "−1500", -2000: "−2000"})
pF = make_panel(RW, PH[2], YR_F, RB[2], [0, -5, -10], [-1, -2, -3, -4, -6, -7, -8, -9, -11, -12, -13],
                "ΔθT̄₁ (K)", 3, "F", overrides={0: "0", -5: "−5", -10: "−10"}, xlabel="Time (years)")

W3 = [2, 2, 2, 2, 3, 2, 2, 2, 2, 2.2]
SER_A = [(YRS, A1), (YRS, A2), (YRS, A3), (YRS, A4), (YRS, A5), (YRS, A6), (YRS, A7),
         (A8_t, A8_v), (A9_t, A9_v), (A10_t, A10_v)]
SER_B = [(YRS, B1), (YRS, B2), (YRS, B3), (YRS, B4), (YRS, B5), (YRS, B6), (B7_t, B7_v),
         (B8_t, B8_v), (B9_t, B9_v), (B10_t, B10_v)]
SER_C = [(YRS, C1), (YRS, C2), (YRS, C3), (YRS, C4), (YRS, C5), (YRS, C6), (YRS, C7),
         (C8_t, C8_v), (C9_t, C9_v), (C10_t, C10_v)]
for p, ser in ((pA, SER_A), (pB, SER_B), (pC, SER_C)):
    for i, (t, v) in enumerate(ser):
        add_line(p, t, v, CASE_COLORS[i], W3[i])

SER_D3 = [(TF, D1), (TF, D2), (TF, D3), (TF, D4), (TF, D5), (TF, D6), (D7_t, D7_v),
          (D8_t, D8_v), (D9_t, D9_v), (D10_t, D10_v)]
SER_D2 = [D2D_1, D2D_2, D2D_3, D2D_4, D2D_5, D2D_6, D2D_7, D2D_8, D2D_9, D2D_10]
SER_E3 = [(TF, E1), (TF, E2), (TF, E3), (TF, E4), (TF, E5), (TF, E6), (E7_t, E7_v),
          (E8_t, E8_v), (E9_t, E9_v), (E10_t, E10_v)]
SER_E2 = [E2D_1, E2D_2, E2D_3, E2D_4, E2D_5, E2D_6, E2D_7, E2D_8, E2D_9, E2D_10]
SER_F3 = [(TF, F1), (TF, F2), (TF, F3), (TF, F4), (TF, F5), (TF, F6), (F7_t, F7_v),
          (F8_t, F8_v), (F9_t, F9_v), (F10_t, F10_v)]
SER_F2 = [F2D_1, F2D_2, F2D_3, F2D_4, F2D_5, F2D_6, F2D_7, F2D_8, F2D_9, F2D_10]
DASH_2D = "7 3 2 3"
for p, s3, s2 in ((pD, SER_D3, SER_D2), (pE, SER_E3, SER_E2), (pF, SER_F3, SER_F2)):
    for i, v in enumerate(s2):
        add_line(p, TF2, v, CASE_COLORS[i], 1.4, DASH_2D)
    for i, (t, v) in enumerate(s3):
        add_line(p, t, v, CASE_COLORS[i], 3.0)

obs_marks(pA, OBS_A, 3.5, 35.5, 3.5, 29, 16)
obs_marks(pB, OBS_B, 3.5, 18, 3.5, 14.5, 6.5)
obs_marks(pC, OBS_C, 3.5, 9.5, 3.5, 7.8, 3.75)
obs_marks(pD, OBS_D, 3.3, 190, 3.0, 177, 139)

sA = label_strip(LSW, PH[0], YR_A, LB[0], END_A)
sB = label_strip(LSW, PH[1], YR_B, LB[1], END_B)
sC = label_strip(LSW, PH[2], YR_C, LB[2], END_C)
sD = label_strip(RSW, PH[0], YR_D, RB[0], END_D)
sE = label_strip(RSW, PH[1], YR_E, RB[1], END_E)
sF = label_strip(RSW, PH[2], YR_F, RB[2], END_F)

left_col = column(row(pA, sA), row(pB, sB), row(pC, sC))
right_col = column(row(pD, sD), row(pE, sE), row(pF, sF))
fig_row = row(Spacer(width=364, height=10, margin=0), left_col,
              Spacer(width=5, height=10, margin=0), right_col)

# ---------------------------------------------------------------- legend strip
NAN = float("nan")
lf = figure(width=1000, height=90, x_range=Range1d(0, 1), y_range=Range1d(0, 1),
            title=None, output_backend="svg", toolbar_location=None, min_border=0,
            x_axis_type=None, y_axis_type=None, outline_line_color=None)
items = []
for i in range(10):
    r = lf.line(x=[NAN], y=[NAN], line_color=CASE_COLORS[i], line_width=4)
    items.append(LegendItem(label=CASE_LABELS[i], renderers=[r]))
leg1 = Legend(items=items, location=(9, 11), orientation="vertical", nrows=2,
              label_text_font="DejaVu Sans", label_text_font_size="20px",
              glyph_width=43, glyph_height=26, label_height=26, label_width=100,
              label_standoff=15, spacing=6, padding=4, margin=0,
              border_line_color="#cccccc", border_line_width=1.5, background_fill_alpha=1.0)
r3 = lf.line(x=[NAN], y=[NAN], line_color="#7f7f7f", line_width=4)
r2 = lf.line(x=[NAN], y=[NAN], line_color="#7f7f7f", line_width=1.4, line_dash=DASH_2D)
leg2 = Legend(items=[LegendItem(label="3D", renderers=[r3]), LegendItem(label="2D", renderers=[r2])],
              location=(888, 11), orientation="vertical",
              label_text_font="DejaVu Sans", label_text_font_size="20px",
              glyph_width=40, glyph_height=26, label_height=26, label_width=30,
              label_standoff=15, spacing=6, padding=4, margin=0,
              border_line_color="#cccccc", border_line_width=1.5, background_fill_alpha=1.0)
lf.add_layout(leg1)
lf.add_layout(leg2)
legend_row = row(Spacer(width=510, height=90, margin=0), lf)

# ---------------------------------------------------------------- text
RED = "#ae1f2f"
OV = "<i style='text-decoration:overline'>{}</i>"

header_html = (
    "<div style='position:relative;width:1927px;height:187px;'>"
    "<div style=\"position:absolute;left:117px;top:88px;font-family:'Open Sans';font-weight:300;font-size:39px;"
    "letter-spacing:3.7px;line-height:52px;white-space:nowrap;color:#111;\">SCIENCE ADVANCES</div>"
    "<div style='position:absolute;left:554px;top:96px;width:2px;height:39px;background:#444;'></div>"
    "<div style=\"position:absolute;left:577px;top:88px;font-family:'Open Sans';font-weight:300;font-size:39px;"
    f"letter-spacing:4.2px;line-height:52px;white-space:nowrap;color:{RED};\">RESEARCH ARTICLE</div>"
    "<div style='position:absolute;left:117px;top:149px;width:1800px;height:2px;background:#222;'></div>"
    "</div>")
header = Div(text=header_html, width=1927, height=187, margin=0)

CAPTION = [
    "<b>Fig. 2. Temporal evolution of the nonlinear simulations.</b> (<b>A</b>) Maximum value of |<i>v</i><sub>ϕ</sub>| for the <i>m</i> = 1 high-latitude mode as a function of time. The black horizontal dashed",
    "line shows the observed (Obs) value. The different colors refer to the different cases. (<b>B</b> and <b>C</b>) Same as (A) for the <i>m</i> = 2 and <i>m</i> = 3 modes. (<b>D</b>) Latitudinal differential rota-",
    "tion Δ<sub>θ</sub> Ω = Ω<sub>eq</sub> − Ω<sub>pole</sub> at <i>r</i> = 0.85<i>R</i><sub>⊙</sub>. The solid and dashed curves denote the results from the 3D full-spherical simulations (where the high-latitude modes are present)",
    "and from the 2D axisymmetric simulations (where the high-latitude modes cannot exist), respectively. (<b>E</b>) Pole-to-equator entropy difference Δ<sub>θ</sub>" + OV.format("s") + "<sub>1</sub> = " + OV.format("s") + "<sub>1,eq</sub> − " + OV.format("s") + "<sub>1,pole</sub>.",
    "(<b>F</b>) Corresponding latitudinal difference in temperature between the poles and equator Δ<sub>θ</sub>" + OV.format("T") + "<sub>1</sub> = " + OV.format("T") + "<sub>1,eq</sub> − " + OV.format("T") + "<sub>1,pole</sub>.",
]
CAPTION_JUSTIFY = [True, True, True, True, False]

DT1 = "Δ<sub>θ</sub>" + OV.format("T") + "<sub>1</sub>"
LEFT_COL = [
    ("gradient force, which leads to the equation for thermal wind bal-", True, False),
    ("ance (eq. S4). The inferred value of " + DT1 + " = −6.8 K is consistent", True, False),
    ("with that required for the observed differential rotation to be in", True, False),
    ("thermal wind balance (<i>14</i>).", False, False),
    ("The latitudinal temperature gradient also drives the non-", True, True),
    ("axisymmetric high-latitude inertial modes that are baroclinically un-", True, False),
    ("stable at low <i>m</i>. In the presence of a sufficiently strong latitudinal", True, False),
    ("temperature difference, the low-<i>m</i> modes, especially the <i>m</i> = 1 mode,", True, False),
    ("grow in amplitude and begin transporting heat toward the equator", True, False),
    ("(see figs. S3, S8, and S15). This reduces the temperature of the poles", True, False),
    ("relative to the equator so that the modes are less strongly driven. The", True, False),
    ("modes saturate by reducing the background baroclinicity. The value", True, False),
    ("of " + DT1 + " in a statistically stationary state reflects this balance and thus", True, False),
    ("is determined by the nonlinear heat transport by the high-latitude in-", True, False),
    ("ertial modes.", False, False),
    ("Unexpectedly, our study reveals that the latitudinal temperature", True, True),
    ("difference in the Sun (−6.8 K) is near its maximum possible (absolute)", True, False),
    ("value, see 3D case in Fig. 4A. In our 2D axisymmetric simulations, it", True, False),
    ("is possible to achieve a higher baroclinicity and latitudinal tempera-", True, False),
    ("ture difference by increasing |δ<sub>0</sub>|, see 2D case in Fig. 4A. This is not", True, False),
    ("possible in the 3D simulations where the non-axisymmetric high-", True, False),
    ("latitude modes are present. With increasing |δ<sub>0</sub>|, the high-latitude", True, False),
]
RIGHT_COL = [
    ("inertial modes grow in amplitude but the temperature gradient does", True, False),
    ("not increase because of enhanced equatorward heat transport by the", True, False),
    ("modes. The modes change the baroclinicity and thus affect the me-", True, False),
    ("ridional flow, resulting in poleward angular momentum transport", True, False),
    ("(fig. S12). This indirect effect is larger than the direct transport of an-", True, False),
    ("gular momentum by the modes, which is equatorward (fig. S15).", False, False),
    ("The latitudinal differential rotation thus has a maximum achiev-", True, True),
    ("able value when the non-axisymmetric inertial modes are included", True, False),
    ("(the 3D case in Fig. 4C). Furthermore, we find that the maximum", True, False),
    ("differential rotation in our nonlinear simulations is Δ<sub>θ</sub>Ω/2π =", True, False),
    ("134.7 nHz (case 5), which is very close to the observed value of", True, False),
    ("130.8 ± 4.5 nHz (see Fig. 4C). We conclude that the high-latitude", True, False),
    ("modes explain the Sun’s differential rotation. Whether the same mech-", True, False),
    ("anism plays a significant role in explaining the large latitudinal differ-", True, False),
    ("ential rotation observed in faster rotating stars (<i>29</i>) is an open question.", True, False),
]
RIGHT_TAIL = [
    ("To study the baroclinic excitation and the nonlinear saturation of", True, False),
    ("the high-latitude modes, we carry out a set of 3D hydrodynamic", True, False),
    ("simulations of the large-scale flows in the Sun. We use a mean-field", True, False),
]
HEADING_1 = "MATERIALS AND METHODS"
HEADING_2 = "Nonlinear 3D dynamical model"
FOOTER_LEFT = "Bekki <i>et al.</i>, <i>Sci. Adv.</i> <b>10</b>, eadk5643 (2024)"
FOOTER_DATE = "27 March 2024"
FOOTER_RIGHT = "4 of 6"
SIDE_TEXT = "Downloaded from https://www.science.org on April 01, 2024"

SANS = "'Lato', 'Open Sans', sans-serif"
SERIF = "'Liberation Serif', 'DejaVu Serif', serif"


def line_div(center, left, width, html, font, size, justify, weight="normal", color="#111",
             indent=0, align="left", spacing=0):
    h = round(size * 1.3)
    top = center - h / 2 - size * 0.1
    ta = "text-align:justify;text-align-last:justify;" if justify else f"text-align:{align};"
    return (f"<div style=\"position:absolute;left:{left}px;top:{top:.1f}px;width:{width}px;height:{h}px;"
            f"line-height:{h}px;white-space:nowrap;font-family:{font};font-size:{size}px;"
            f"letter-spacing:{spacing}px;"
            f"font-weight:{weight};color:{color};{ta}padding-left:{indent}px;box-sizing:border-box;\">{html}</div>")


CAP_SIZE, BODY_SIZE = 24, 30.8
parts = ["<style>sub{font-size:68%;vertical-align:-0.28em;line-height:0;} sup{font-size:68%;line-height:0;}</style>",
         "<div style='position:relative;width:1927px;height:1260px;'>"]
for i, (txt, j) in enumerate(zip(CAPTION, CAPTION_JUSTIFY)):
    parts.append(line_div(38 + 35 * i, 117, 1800, txt, SANS, CAP_SIZE, j, spacing=-0.1))
BODY_C0, BODY_DY = 295, 37.9
for i, (txt, j, ind) in enumerate(LEFT_COL):
    parts.append(line_div(BODY_C0 + BODY_DY * i, 117, 878, txt, SERIF, BODY_SIZE, j, indent=33 if ind else 0))
for i, (txt, j, ind) in enumerate(RIGHT_COL):
    parts.append(line_div(BODY_C0 + BODY_DY * i, 1036, 881, txt, SERIF, BODY_SIZE, j, indent=33 if ind else 0))
parts.append(line_div(BODY_C0 + BODY_DY * 17, 1036, 881, HEADING_1, SANS, 29, False, weight="bold", color=RED))
parts.append(line_div(BODY_C0 + BODY_DY * 18 - 2, 1036, 881, HEADING_2, SANS, 30, False, weight="bold", color="#111"))
for k, (txt, j, ind) in enumerate(RIGHT_TAIL):
    parts.append(line_div(BODY_C0 + BODY_DY * (19 + k), 1036, 881, txt, SERIF, BODY_SIZE, j))
parts.append(line_div(1163, 117, 700, FOOTER_LEFT, SANS, 20, False))
parts.append(line_div(1163, 573, 300, FOOTER_DATE, SANS, 20, False))
parts.append(line_div(1163, 1617, 300, "<b>" + FOOTER_RIGHT + "</b>", SANS, 20, False, align="right"))
parts.append("</div>")
lower = Div(text="".join(parts), width=1927, height=1260, margin=0)

main_col = column(header, fig_row, legend_row, lower)

side = figure(width=50, height=710, x_range=Range1d(0, 50), y_range=Range1d(0, 710),
              title=None, output_backend="svg", toolbar_location=None, min_border=0,
              x_axis_type=None, y_axis_type=None, outline_line_color=None)
side.add_layout(Label(x=23, y=355, text=SIDE_TEXT, angle=-math.pi / 2, text_align="center",
                      text_baseline="middle", text_font="Liberation Serif", text_font_size="28px",
                      text_color="#222"))
side_col = column(Spacer(width=50, height=942, margin=0), side)

page = row(Spacer(width=8, height=8, margin=0),
           column(Spacer(width=8, height=8, margin=0), row(main_col, side_col)))

with open("out.html", "w", encoding="utf-8") as fh:
    fh.write(file_html(page, INLINE, title="Fig. 2"))
